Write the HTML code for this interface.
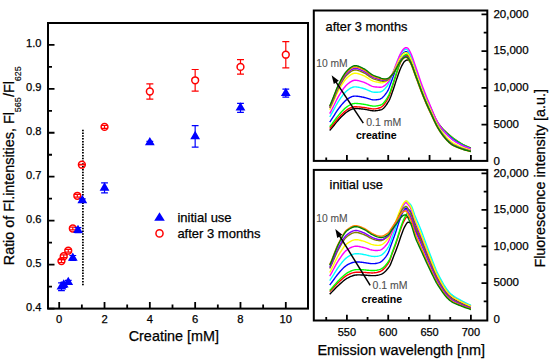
<!DOCTYPE html>
<html><head><meta charset="utf-8"><style>
html,body{margin:0;padding:0;background:#fff;}
svg{display:block;font-family:"Liberation Sans",sans-serif;}
text{stroke:currentColor;stroke-width:0.25px;}
</style></head><body>
<svg width="550" height="361" viewBox="0 0 550 361">
<rect width="550" height="361" fill="#fff"/>
<g stroke="#000" stroke-width="2" fill="none">
<rect x="48" y="23" width="260" height="285.6"/>
</g>
<path d="M59.20 308.6V302.10 M81.86 308.6V304.60 M104.52 308.6V302.10 M127.18 308.6V304.60 M149.84 308.6V302.10 M172.50 308.6V304.60 M195.16 308.6V302.10 M217.82 308.6V304.60 M240.48 308.6V302.10 M263.14 308.6V304.60 M285.80 308.6V302.10 M48 308.60H54.50 M48 286.62H52.00 M48 264.64H54.50 M48 242.66H52.00 M48 220.68H54.50 M48 198.70H52.00 M48 176.72H54.50 M48 154.74H52.00 M48 132.76H54.50 M48 110.78H52.00 M48 88.80H54.50 M48 66.82H52.00 M48 44.84H54.50" stroke="#000" stroke-width="1.8" fill="none"/>
<g font-size="11.1" text-anchor="end" fill="#000">
<text x="41.4" y="311.10">0.4</text>
<text x="41.4" y="267.14">0.5</text>
<text x="41.4" y="223.18">0.6</text>
<text x="41.4" y="179.22">0.7</text>
<text x="41.4" y="135.26">0.8</text>
<text x="41.4" y="91.30">0.9</text>
<text x="41.4" y="47.34">1.0</text>
</g>
<g font-size="11.2" text-anchor="middle" fill="#000">
<text x="59.20" y="323.2">0</text>
<text x="104.52" y="323.2">2</text>
<text x="149.84" y="323.2">4</text>
<text x="195.16" y="323.2">6</text>
<text x="240.48" y="323.2">8</text>
<text x="285.80" y="323.2">10</text>
</g>
<text x="128.7" y="341" font-size="14.4">Creatine [mM]</text>
<text transform="translate(13.7,265.2) rotate(-90)" font-size="14.35">Ratio of Fl.intensities, Fl<tspan font-size="9" dy="6.8" style="stroke-width:0.15px">565</tspan><tspan dy="-6.8">/Fl</tspan><tspan font-size="9" dy="6.8" style="stroke-width:0.15px">625</tspan></text>
<line x1="82.9" y1="129.7" x2="82.9" y2="285.2" stroke="#000" stroke-width="1.8" stroke-dasharray="1.5 1.3"/>
<g stroke="#ff0000" stroke-width="1.5" fill="none"><circle cx="61.47" cy="261.10" r="3.4"/><circle cx="63.73" cy="256.20" r="3.4"/><circle cx="68.26" cy="250.70" r="3.4"/><circle cx="72.80" cy="228.50" r="3.4"/><circle cx="77.33" cy="195.80" r="3.4"/><circle cx="81.86" cy="164.70" r="3.4"/><circle cx="104.52" cy="126.90" r="3.4"/><circle cx="149.84" cy="91.50" r="3.4"/><circle cx="195.16" cy="80.30" r="3.4"/><circle cx="240.48" cy="66.90" r="3.4"/><circle cx="285.80" cy="54.70" r="3.4"/></g>
<path d="M61.47 259.70V262.50M57.97 259.70H64.97M57.97 262.50H64.97M63.73 254.80V257.60M60.23 254.80H67.23M60.23 257.60H67.23M68.26 249.30V252.10M64.76 249.30H71.76M64.76 252.10H71.76M72.80 227.20V229.80M69.30 227.20H76.30M69.30 229.80H76.30M77.33 194.40V197.20M73.83 194.40H80.83M73.83 197.20H80.83M81.86 164.45V164.95M78.36 164.45H85.36M78.36 164.95H85.36M104.52 125.50V128.30M101.02 125.50H108.02M101.02 128.30H108.02M149.84 88.10V83.80M149.84 94.90V99.20M146.34 83.80H153.34M146.34 99.20H153.34M195.16 76.90V69.50M195.16 83.70V91.10M191.66 69.50H198.66M191.66 91.10H198.66M240.48 63.50V59.70M240.48 70.30V74.10M236.98 59.70H243.98M236.98 74.10H243.98M285.80 51.30V41.60M285.80 58.10V67.80M282.30 41.60H289.30M282.30 67.80H289.30" stroke="#ff0000" stroke-width="1.2" fill="none"/>
<path d="M61.47 282.90V290.70M58.07 282.90H64.87M58.07 290.70H64.87M63.73 282.30V287.30M60.33 282.30H67.13M60.33 287.30H67.13M68.26 280.30V284.30M64.86 280.30H71.66M64.86 284.30H71.66M72.80 255.50V260.50M69.40 255.50H76.20M69.40 260.50H76.20M78.01 227.70V232.70M74.61 227.70H81.41M74.61 232.70H81.41M82.31 198.90V201.90M78.91 198.90H85.71M78.91 201.90H85.71M104.52 182.90V192.90M101.12 182.90H107.92M101.12 192.90H107.92M149.84 141.30V143.70M146.44 141.30H153.24M146.44 143.70H153.24M195.16 125.70V147.10M191.76 125.70H198.56M191.76 147.10H198.56M240.48 103.30V112.30M237.08 103.30H243.88M237.08 112.30H243.88M285.80 89.20V97.20M282.40 89.20H289.20M282.40 97.20H289.20" stroke="#0000ff" stroke-width="1.2" fill="none"/>
<path d="M61.47 281.27L66.37 289.57L56.57 289.57ZM63.73 279.27L68.63 287.57L58.83 287.57ZM68.26 276.77L73.16 285.07L63.36 285.07ZM72.80 252.47L77.70 260.77L67.90 260.77ZM78.01 224.67L82.91 232.97L73.11 232.97ZM82.31 194.87L87.21 203.17L77.41 203.17ZM104.52 182.37L109.42 190.67L99.62 190.67ZM149.84 136.97L154.74 145.27L144.94 145.27ZM195.16 130.87L200.06 139.17L190.26 139.17ZM240.48 102.27L245.38 110.57L235.58 110.57ZM285.80 87.67L290.70 95.97L280.90 95.97Z" fill="#0000ff"/>
<path d="M159.50 212.30L164.80 220.70L154.20 220.70Z" fill="#0000ff"/>
<circle cx="159.5" cy="233.4" r="3.55" stroke="#ff0000" stroke-width="1.5" fill="none"/>
<text x="177.4" y="222.0" font-size="13">initial use</text>
<text x="177.4" y="237.9" font-size="13">after 3 months</text>
<rect x="313.8" y="10.5" width="173.5" height="150.40" stroke="#000" stroke-width="2" fill="none"/>
<path d="M487.3 142.93H483.70 M487.3 124.55H481.50 M487.3 106.18H483.70 M487.3 87.80H481.50 M487.3 69.43H483.70 M487.3 51.05H481.50 M487.3 32.68H483.70 M487.3 14.30H481.50 M326.23 160.90V157.50 M346.90 160.90V155.10 M367.57 160.90V157.50 M388.23 160.90V155.10 M408.90 160.90V157.50 M429.57 160.90V155.10 M450.24 160.90V157.50 M470.90 160.90V155.10" stroke="#000" stroke-width="1.8" fill="none"/>
<g font-size="11.5" fill="#000">
<text x="493.4" y="164.60">0</text>
<text x="493.4" y="127.85">5000</text>
<text x="493.4" y="91.10">10,000</text>
<text x="493.4" y="54.35">15,000</text>
<text x="493.4" y="17.60">20,000</text>
</g>
<g fill="none" stroke-width="1.4" stroke-linejoin="round"><polyline points="329.70,130.44 330.37,129.64 331.19,128.68 332.02,127.72 332.85,126.73 333.67,125.71 334.50,124.69 335.33,123.66 336.15,122.64 336.98,121.65 337.81,120.68 338.63,119.75 339.46,118.86 340.29,117.97 341.11,117.10 341.94,116.25 342.77,115.44 343.59,114.65 344.42,113.90 345.25,113.20 346.07,112.55 346.90,111.96 347.73,111.41 348.55,110.89 349.38,110.41 350.21,109.96 351.03,109.57 351.86,109.22 352.69,108.94 353.51,108.71 354.34,108.55 355.17,108.47 355.99,108.46 356.82,108.49 357.65,108.54 358.47,108.60 359.30,108.68 360.13,108.77 360.95,108.86 361.78,108.96 362.61,109.06 363.43,109.15 364.26,109.26 365.09,109.39 365.91,109.53 366.74,109.68 367.57,109.84 368.39,110.00 369.22,110.16 370.05,110.32 370.87,110.47 371.70,110.60 372.53,110.72 373.35,110.80 374.18,110.83 375.01,110.81 375.83,110.75 376.66,110.66 377.49,110.53 378.31,110.37 379.14,110.20 379.97,110.02 380.79,109.83 381.62,109.54 382.45,109.07 383.27,108.43 384.10,107.64 384.93,106.71 385.75,105.66 386.58,104.50 387.41,103.25 388.23,101.91 389.06,100.53 389.89,98.86 390.72,96.78 391.54,94.46 392.37,92.03 393.20,89.66 394.02,87.26 394.85,84.73 395.68,82.15 396.50,79.60 397.33,77.17 398.16,74.81 398.98,72.47 399.81,70.23 400.64,68.19 401.46,66.43 402.29,64.83 403.12,63.34 403.94,62.10 404.77,61.25 405.60,60.65 406.42,60.19 407.25,59.95 408.08,59.99 408.90,60.47 409.73,61.39 410.56,62.56 411.38,63.82 412.21,65.27 413.04,67.03 413.86,69.00 414.69,71.11 415.52,73.24 416.34,75.31 417.17,77.38 418.00,79.54 418.82,81.77 419.65,84.02 420.48,86.26 421.30,88.44 422.13,90.51 422.96,92.50 423.78,94.45 424.61,96.35 425.44,98.22 426.26,100.06 427.09,101.86 427.92,103.63 428.74,105.38 429.57,107.11 430.40,108.83 431.22,110.58 432.05,112.38 432.88,114.21 433.70,116.02 434.53,117.81 435.36,119.54 436.18,121.18 437.01,122.71 437.84,124.10 438.66,125.33 439.49,126.43 440.32,127.48 441.14,128.48 441.97,129.42 442.80,130.32 443.62,131.17 444.45,131.98 445.28,132.76 446.10,133.51 446.93,134.24 447.76,134.94 448.58,135.63 449.41,136.31 450.24,136.97 451.06,137.64 451.89,138.29 452.72,138.93 453.54,139.54 454.37,140.13 455.20,140.71 456.02,141.28 456.85,141.84 457.68,142.38 458.50,142.92 459.33,143.44 460.16,143.95 460.98,144.44 461.81,144.91 462.64,145.37 463.46,145.80 464.29,146.21 465.12,146.61 465.94,146.99 466.77,147.36 467.60,147.71 468.42,148.05 469.25,148.39 470.08,148.73 470.90,149.06" stroke="#000000"/>
<polyline points="329.70,128.51 330.37,127.74 331.19,126.80 332.02,125.82 332.85,124.81 333.67,123.77 334.50,122.73 335.33,121.69 336.15,120.66 336.98,119.65 337.81,118.67 338.63,117.74 339.46,116.83 340.29,115.94 341.11,115.07 341.94,114.22 342.77,113.40 343.59,112.61 344.42,111.87 345.25,111.18 346.07,110.54 346.90,109.95 347.73,109.42 348.55,108.91 349.38,108.45 350.21,108.03 351.03,107.66 351.86,107.35 352.69,107.09 353.51,106.91 354.34,106.79 355.17,106.74 355.99,106.76 356.82,106.79 357.65,106.83 358.47,106.90 359.30,106.97 360.13,107.05 360.95,107.14 361.78,107.24 362.61,107.33 363.43,107.42 364.26,107.53 365.09,107.65 365.91,107.78 366.74,107.93 367.57,108.08 368.39,108.24 369.22,108.39 370.05,108.54 370.87,108.68 371.70,108.81 372.53,108.90 373.35,108.94 374.18,108.91 375.01,108.85 375.83,108.74 376.66,108.59 377.49,108.42 378.31,108.22 379.14,108.01 379.97,107.79 380.79,107.48 381.62,106.97 382.45,106.30 383.27,105.46 384.10,104.48 384.93,103.38 385.75,102.16 386.58,100.85 387.41,99.45 388.23,97.99 389.06,96.27 389.89,94.10 390.72,91.67 391.54,89.12 392.37,86.62 393.20,84.13 394.02,81.50 394.85,78.82 395.68,76.17 396.50,73.62 397.33,71.15 398.16,68.69 398.98,66.33 399.81,64.17 400.64,62.29 401.46,60.61 402.29,59.03 403.12,57.70 403.94,56.76 404.77,56.10 405.60,55.55 406.42,55.21 407.25,55.17 408.08,55.58 408.90,56.46 409.73,57.63 410.56,58.90 411.38,60.35 412.21,62.13 413.04,64.16 413.86,66.34 414.69,68.56 415.52,70.73 416.34,72.89 417.17,75.14 418.00,77.44 418.82,79.78 419.65,82.10 420.48,84.37 421.30,86.53 422.13,88.60 422.96,90.63 423.78,92.61 424.61,94.56 425.44,96.47 426.26,98.35 427.09,100.20 427.92,102.03 428.74,103.84 429.57,105.63 430.40,107.44 431.22,109.30 432.05,111.20 432.88,113.08 433.70,114.94 434.53,116.74 435.36,118.46 436.18,120.06 437.01,121.52 437.84,122.80 438.66,123.96 439.49,125.05 440.32,126.09 441.14,127.07 441.97,128.00 442.80,128.89 443.62,129.74 444.45,130.56 445.28,131.35 446.10,132.11 446.93,132.85 447.76,133.57 448.58,134.28 449.41,134.98 450.24,135.68 451.06,136.38 451.89,137.05 452.72,137.71 453.54,138.35 454.37,138.96 455.20,139.56 456.02,140.15 456.85,140.72 457.68,141.28 458.50,141.83 459.33,142.37 460.16,142.88 460.98,143.38 461.81,143.86 462.64,144.32 463.46,144.75 464.29,145.17 465.12,145.57 465.94,145.95 466.77,146.33 467.60,146.69 468.42,147.04 469.25,147.40 470.08,147.74 470.90,148.09" stroke="#ff0000"/>
<polyline points="329.70,126.74 330.37,125.91 331.19,124.89 332.02,123.84 332.85,122.74 333.67,121.63 334.50,120.50 335.33,119.37 336.15,118.26 336.98,117.17 337.81,116.12 338.63,115.12 339.46,114.16 340.29,113.21 341.11,112.27 341.94,111.37 342.77,110.50 343.59,109.66 344.42,108.87 345.25,108.13 346.07,107.45 346.90,106.84 347.73,106.27 348.55,105.74 349.38,105.25 350.21,104.80 351.03,104.40 351.86,104.06 352.69,103.79 353.51,103.58 354.34,103.44 355.17,103.39 355.99,103.40 356.82,103.44 357.65,103.50 358.47,103.58 359.30,103.67 360.13,103.77 360.95,103.88 361.78,103.99 362.61,104.11 363.43,104.22 364.26,104.35 365.09,104.50 365.91,104.66 366.74,104.84 367.57,105.03 368.39,105.22 369.22,105.41 370.05,105.60 370.87,105.77 371.70,105.93 372.53,106.05 373.35,106.12 374.18,106.13 375.01,106.10 375.83,106.02 376.66,105.91 377.49,105.77 378.31,105.61 379.14,105.43 379.97,105.24 380.79,105.00 381.62,104.58 382.45,103.98 383.27,103.23 384.10,102.34 384.93,101.31 385.75,100.18 386.58,98.94 387.41,97.62 388.23,96.23 389.06,94.64 389.89,92.62 390.72,90.30 391.54,87.84 392.37,85.39 393.20,82.99 394.02,80.45 394.85,77.84 395.68,75.22 396.50,72.69 397.33,70.26 398.16,67.83 398.98,65.49 399.81,63.32 400.64,61.41 401.46,59.74 402.29,58.16 403.12,56.80 403.94,55.80 404.77,55.13 405.60,54.58 406.42,54.23 407.25,54.17 408.08,54.53 408.90,55.38 409.73,56.55 410.56,57.87 411.38,59.30 412.21,61.07 413.04,63.11 413.86,65.30 414.69,67.55 415.52,69.77 416.34,71.94 417.17,74.19 418.00,76.51 418.82,78.86 419.65,81.21 420.48,83.51 421.30,85.72 422.13,87.82 422.96,89.88 423.78,91.90 424.61,93.88 425.44,95.82 426.26,97.73 427.09,99.61 427.92,101.46 428.74,103.29 429.57,105.09 430.40,106.91 431.22,108.79 432.05,110.69 432.88,112.60 433.70,114.48 434.53,116.31 435.36,118.06 436.18,119.70 437.01,121.21 437.84,122.56 438.66,123.75 439.49,124.88 440.32,125.95 441.14,126.97 441.97,127.94 442.80,128.86 443.62,129.74 444.45,130.58 445.28,131.39 446.10,132.17 446.93,132.93 447.76,133.67 448.58,134.40 449.41,135.11 450.24,135.82 451.06,136.52 451.89,137.20 452.72,137.85 453.54,138.49 454.37,139.09 455.20,139.68 456.02,140.26 456.85,140.83 457.68,141.39 458.50,141.93 459.33,142.46 460.16,142.97 460.98,143.46 461.81,143.93 462.64,144.39 463.46,144.82 464.29,145.23 465.12,145.63 465.94,146.01 466.77,146.38 467.60,146.74 468.42,147.09 469.25,147.44 470.08,147.78 470.90,148.12" stroke="#00ff00"/>
<polyline points="329.70,122.01 330.37,121.10 331.19,119.92 332.02,118.68 332.85,117.40 333.67,116.09 334.50,114.77 335.33,113.46 336.15,112.17 336.98,110.92 337.81,109.72 338.63,108.59 339.46,107.51 340.29,106.45 341.11,105.41 341.94,104.40 342.77,103.44 343.59,102.52 344.42,101.66 345.25,100.86 346.07,100.14 346.90,99.50 347.73,98.92 348.55,98.37 349.38,97.86 350.21,97.41 351.03,97.01 351.86,96.68 352.69,96.41 353.51,96.23 354.34,96.13 355.17,96.11 355.99,96.13 356.82,96.18 357.65,96.26 358.47,96.37 359.30,96.50 360.13,96.64 360.95,96.79 361.78,96.95 362.61,97.12 363.43,97.28 364.26,97.45 365.09,97.66 365.91,97.89 366.74,98.14 367.57,98.41 368.39,98.68 369.22,98.94 370.05,99.20 370.87,99.44 371.70,99.64 372.53,99.78 373.35,99.85 374.18,99.87 375.01,99.85 375.83,99.79 376.66,99.70 377.49,99.59 378.31,99.46 379.14,99.33 379.97,99.13 380.79,98.76 381.62,98.24 382.45,97.58 383.27,96.79 384.10,95.89 384.93,94.88 385.75,93.78 386.58,92.60 387.41,91.36 388.23,89.87 389.06,87.95 389.89,85.77 390.72,83.48 391.54,81.22 392.37,78.99 393.20,76.63 394.02,74.20 394.85,71.77 395.68,69.41 396.50,67.10 397.33,64.75 398.16,62.50 398.98,60.42 399.81,58.60 400.64,56.99 401.46,55.48 402.29,54.19 403.12,53.25 403.94,52.61 404.77,52.05 405.60,51.69 406.42,51.63 407.25,52.04 408.08,52.93 408.90,54.15 409.73,55.52 410.56,57.04 411.38,58.91 412.21,61.03 413.04,63.31 413.86,65.65 414.69,67.95 415.52,70.21 416.34,72.56 417.17,74.94 418.00,77.32 418.82,79.71 419.65,82.05 420.48,84.30 421.30,86.46 422.13,88.57 422.96,90.65 423.78,92.69 424.61,94.70 425.44,96.67 426.26,98.62 427.09,100.53 427.92,102.42 428.74,104.28 429.57,106.14 430.40,108.05 431.22,109.98 432.05,111.92 432.88,113.84 433.70,115.70 434.53,117.49 435.36,119.17 436.18,120.72 437.01,122.11 437.84,123.36 438.66,124.55 439.49,125.68 440.32,126.76 441.14,127.79 441.97,128.78 442.80,129.72 443.62,130.62 444.45,131.49 445.28,132.33 446.10,133.15 446.93,133.94 447.76,134.71 448.58,135.47 449.41,136.22 450.24,136.95 451.06,137.66 451.89,138.34 452.72,138.99 453.54,139.60 454.37,140.19 455.20,140.74 456.02,141.29 456.85,141.83 457.68,142.35 458.50,142.86 459.33,143.35 460.16,143.83 460.98,144.28 461.81,144.72 462.64,145.14 463.46,145.54 464.29,145.92 465.12,146.29 465.94,146.64 466.77,146.99 467.60,147.33 468.42,147.66 469.25,147.99 470.08,148.32 470.90,148.66" stroke="#0000ff"/>
<polyline points="329.70,116.85 330.37,115.79 331.19,114.41 332.02,112.95 332.85,111.44 333.67,109.90 334.50,108.34 335.33,106.79 336.15,105.28 336.98,103.81 337.81,102.42 338.63,101.11 339.46,99.87 340.29,98.65 341.11,97.45 341.94,96.30 342.77,95.19 343.59,94.14 344.42,93.16 345.25,92.26 346.07,91.44 346.90,90.73 347.73,90.08 348.55,89.47 349.38,88.90 350.21,88.38 351.03,87.92 351.86,87.54 352.69,87.23 353.51,87.02 354.34,86.90 355.17,86.87 355.99,86.89 356.82,86.96 357.65,87.08 358.47,87.22 359.30,87.40 360.13,87.60 360.95,87.81 361.78,88.03 362.61,88.25 363.43,88.47 364.26,88.71 365.09,89.00 365.91,89.32 366.74,89.66 367.57,90.02 368.39,90.39 369.22,90.76 370.05,91.11 370.87,91.45 371.70,91.73 372.53,91.94 373.35,92.09 374.18,92.18 375.01,92.23 375.83,92.24 376.66,92.23 377.49,92.20 378.31,92.16 379.14,92.12 379.97,92.02 380.79,91.76 381.62,91.38 382.45,90.87 383.27,90.25 384.10,89.53 384.93,88.71 385.75,87.79 386.58,86.80 387.41,85.74 388.23,84.43 389.06,82.72 389.89,80.76 390.72,78.71 391.54,76.70 392.37,74.70 393.20,72.56 394.02,70.35 394.85,68.12 395.68,65.94 396.50,63.76 397.33,61.55 398.16,59.41 398.98,57.45 399.81,55.74 400.64,54.22 401.46,52.79 402.29,51.57 403.12,50.69 403.94,50.09 404.77,49.56 405.60,49.24 406.42,49.26 407.25,49.74 408.08,50.72 408.90,52.02 409.73,53.48 410.56,55.11 411.38,57.08 412.21,59.30 413.04,61.67 413.86,64.10 414.69,66.48 415.52,68.83 416.34,71.24 417.17,73.66 418.00,76.09 418.82,78.51 419.65,80.90 420.48,83.20 421.30,85.42 422.13,87.60 422.96,89.74 423.78,91.85 424.61,93.92 425.44,95.96 426.26,97.96 427.09,99.93 427.92,101.87 428.74,103.78 429.57,105.68 430.40,107.61 431.22,109.58 432.05,111.55 432.88,113.50 433.70,115.40 434.53,117.23 435.36,118.96 436.18,120.56 437.01,122.01 437.84,123.33 438.66,124.59 439.49,125.80 440.32,126.95 441.14,128.05 441.97,129.11 442.80,130.12 443.62,131.09 444.45,132.02 445.28,132.92 446.10,133.79 446.93,134.63 447.76,135.44 448.58,136.23 449.41,137.01 450.24,137.76 451.06,138.47 451.89,139.16 452.72,139.80 453.54,140.40 454.37,140.96 455.20,141.49 456.02,142.01 456.85,142.51 457.68,143.01 458.50,143.49 459.33,143.95 460.16,144.40 460.98,144.84 461.81,145.25 462.64,145.64 463.46,146.02 464.29,146.38 465.12,146.73 465.94,147.06 466.77,147.39 467.60,147.71 468.42,148.03 469.25,148.34 470.08,148.66 470.90,148.97" stroke="#00ffff"/>
<polyline points="329.70,113.61 330.37,112.42 331.19,110.91 332.02,109.30 332.85,107.64 333.67,105.93 334.50,104.20 335.33,102.49 336.15,100.81 336.98,99.18 337.81,97.64 338.63,96.21 339.46,94.85 340.29,93.50 341.11,92.18 341.94,90.90 342.77,89.68 343.59,88.52 344.42,87.43 345.25,86.43 346.07,85.53 346.90,84.74 347.73,84.02 348.55,83.33 349.38,82.69 350.21,82.10 351.03,81.57 351.86,81.11 352.69,80.74 353.51,80.46 354.34,80.29 355.17,80.23 355.99,80.26 356.82,80.35 357.65,80.48 358.47,80.66 359.30,80.87 360.13,81.10 360.95,81.35 361.78,81.62 362.61,81.89 363.43,82.15 364.26,82.44 365.09,82.78 365.91,83.16 366.74,83.57 367.57,84.00 368.39,84.44 369.22,84.88 370.05,85.30 370.87,85.70 371.70,86.06 372.53,86.36 373.35,86.60 374.18,86.78 375.01,86.91 375.83,87.01 376.66,87.07 377.49,87.12 378.31,87.16 379.14,87.19 379.97,87.24 380.79,87.23 381.62,87.09 382.45,86.82 383.27,86.43 384.10,85.93 384.93,85.32 385.75,84.61 386.58,83.80 387.41,82.91 388.23,81.94 389.06,80.70 389.89,79.13 390.72,77.33 391.54,75.44 392.37,73.59 393.20,71.70 394.02,69.66 394.85,67.52 395.68,65.35 396.50,63.20 397.33,61.06 398.16,58.93 398.98,56.90 399.81,55.04 400.64,53.43 401.46,51.98 402.29,50.63 403.12,49.49 403.94,48.70 404.77,48.13 405.60,47.72 406.42,47.59 407.25,47.81 408.08,48.52 408.90,49.68 409.73,51.15 410.56,52.74 411.38,54.54 412.21,56.64 413.04,58.97 413.86,61.42 414.69,63.89 415.52,66.30 416.34,68.67 417.17,71.08 418.00,73.51 418.82,75.99 419.65,78.45 420.48,80.88 421.30,83.21 422.13,85.47 422.96,87.69 423.78,89.87 424.61,92.01 425.44,94.12 426.26,96.18 427.09,98.20 427.92,100.19 428.74,102.13 429.57,104.04 430.40,105.96 431.22,107.93 432.05,109.93 432.88,111.93 433.70,113.91 434.53,115.84 435.36,117.69 436.18,119.44 437.01,121.06 437.84,122.54 438.66,123.89 439.49,125.19 440.32,126.43 441.14,127.62 441.97,128.76 442.80,129.84 443.62,130.88 444.45,131.88 445.28,132.83 446.10,133.74 446.93,134.62 447.76,135.47 448.58,136.28 449.41,137.07 450.24,137.83 451.06,138.56 451.89,139.24 452.72,139.89 453.54,140.48 454.37,141.03 455.20,141.55 456.02,142.05 456.85,142.55 457.68,143.04 458.50,143.51 459.33,143.97 460.16,144.42 460.98,144.85 461.81,145.26 462.64,145.65 463.46,146.03 464.29,146.39 465.12,146.73 465.94,147.07 466.77,147.39 467.60,147.70 468.42,148.01 469.25,148.31 470.08,148.62 470.90,148.92" stroke="#ff00ff"/>
<polyline points="329.70,109.80 330.37,108.50 331.19,106.81 332.02,105.02 332.85,103.15 333.67,101.23 334.50,99.30 335.33,97.38 336.15,95.50 336.98,93.69 337.81,91.99 338.63,90.42 339.46,88.93 340.29,87.46 341.11,86.02 341.94,84.63 342.77,83.30 343.59,82.04 344.42,80.87 345.25,79.79 346.07,78.83 346.90,78.00 347.73,77.24 348.55,76.52 349.38,75.83 350.21,75.20 351.03,74.64 351.86,74.15 352.69,73.75 353.51,73.45 354.34,73.26 355.17,73.20 355.99,73.24 356.82,73.35 357.65,73.51 358.47,73.73 359.30,73.99 360.13,74.29 360.95,74.60 361.78,74.93 362.61,75.27 363.43,75.59 364.26,75.95 365.09,76.38 365.91,76.85 366.74,77.37 367.57,77.90 368.39,78.45 369.22,79.00 370.05,79.53 370.87,80.02 371.70,80.47 372.53,80.86 373.35,81.18 374.18,81.44 375.01,81.66 375.83,81.85 376.66,82.01 377.49,82.16 378.31,82.31 379.14,82.48 379.97,82.66 380.79,82.79 381.62,82.83 382.45,82.78 383.27,82.63 384.10,82.40 384.93,82.09 385.75,81.68 386.58,81.19 387.41,80.62 388.23,79.96 389.06,79.05 389.89,77.88 390.72,76.53 391.54,75.12 392.37,73.75 393.20,72.30 394.02,70.71 394.85,69.02 395.68,67.27 396.50,65.49 397.33,63.68 398.16,61.89 398.98,60.19 399.81,58.64 400.64,57.31 401.46,56.09 402.29,54.96 403.12,54.03 403.94,53.39 404.77,52.92 405.60,52.60 406.42,52.60 407.25,52.96 408.08,53.77 408.90,55.01 409.73,56.52 410.56,58.15 411.38,59.99 412.21,62.11 413.04,64.41 413.86,66.81 414.69,69.22 415.52,71.56 416.34,73.86 417.17,76.16 418.00,78.47 418.82,80.82 419.65,83.17 420.48,85.47 421.30,87.71 422.13,89.89 422.96,92.03 423.78,94.14 424.61,96.21 425.44,98.24 426.26,100.24 427.09,102.19 427.92,104.09 428.74,105.96 429.57,107.77 430.40,109.60 431.22,111.48 432.05,113.38 432.88,115.28 433.70,117.16 434.53,118.99 435.36,120.76 436.18,122.45 437.01,124.02 437.84,125.47 438.66,126.82 439.49,128.12 440.32,129.36 441.14,130.56 441.97,131.70 442.80,132.80 443.62,133.85 444.45,134.86 445.28,135.82 446.10,136.74 446.93,137.62 447.76,138.46 448.58,139.27 449.41,140.03 450.24,140.77 451.06,141.45 451.89,142.09 452.72,142.68 453.54,143.21 454.37,143.68 455.20,144.11 456.02,144.54 456.85,144.96 457.68,145.37 458.50,145.77 459.33,146.15 460.16,146.53 460.98,146.89 461.81,147.24 462.64,147.57 463.46,147.88 464.29,148.18 465.12,148.47 465.94,148.75 466.77,149.02 467.60,149.29 468.42,149.55 469.25,149.80 470.08,150.06 470.90,150.31" stroke="#ffff00"/>
<polyline points="329.70,108.16 330.37,106.79 331.19,105.03 332.02,103.15 332.85,101.19 333.67,99.17 334.50,97.14 335.33,95.12 336.15,93.15 336.98,91.25 337.81,89.47 338.63,87.84 339.46,86.29 340.29,84.76 341.11,83.27 341.94,81.82 342.77,80.44 343.59,79.13 344.42,77.91 345.25,76.81 346.07,75.82 346.90,74.96 347.73,74.19 348.55,73.45 349.38,72.74 350.21,72.09 351.03,71.50 351.86,70.99 352.69,70.57 353.51,70.26 354.34,70.06 355.17,69.99 355.99,70.03 356.82,70.15 357.65,70.34 358.47,70.58 359.30,70.87 360.13,71.19 360.95,71.54 361.78,71.90 362.61,72.27 363.43,72.63 364.26,73.02 365.09,73.49 365.91,74.01 366.74,74.58 367.57,75.17 368.39,75.77 369.22,76.37 370.05,76.95 370.87,77.50 371.70,78.00 372.53,78.43 373.35,78.79 374.18,79.11 375.01,79.38 375.83,79.62 376.66,79.84 377.49,80.05 378.31,80.27 379.14,80.49 379.97,80.75 380.79,80.98 381.62,81.14 382.45,81.23 383.27,81.24 384.10,81.18 384.93,81.03 385.75,80.81 386.58,80.50 387.41,80.11 388.23,79.64 389.06,78.97 389.89,78.06 390.72,76.99 391.54,75.85 392.37,74.72 393.20,73.55 394.02,72.22 394.85,70.77 395.68,69.24 396.50,67.66 397.33,66.05 398.16,64.45 398.98,62.92 399.81,61.52 400.64,60.30 401.46,59.21 402.29,58.19 403.12,57.33 403.94,56.73 404.77,56.30 405.60,56.04 406.42,56.08 407.25,56.46 408.08,57.28 408.90,58.51 409.73,60.01 410.56,61.65 411.38,63.47 412.21,65.54 413.04,67.80 413.86,70.14 414.69,72.50 415.52,74.79 416.34,77.02 417.17,79.24 418.00,81.47 418.82,83.73 419.65,86.00 420.48,88.24 421.30,90.42 422.13,92.54 422.96,94.64 423.78,96.70 424.61,98.72 425.44,100.70 426.26,102.65 427.09,104.55 427.92,106.40 428.74,108.21 429.57,109.97 430.40,111.73 431.22,113.53 432.05,115.36 432.88,117.20 433.70,119.02 434.53,120.80 435.36,122.53 436.18,124.18 437.01,125.74 437.84,127.17 438.66,128.52 439.49,129.82 440.32,131.06 441.14,132.26 441.97,133.41 442.80,134.51 443.62,135.57 444.45,136.57 445.28,137.54 446.10,138.46 446.93,139.33 447.76,140.17 448.58,140.96 449.41,141.71 450.24,142.42 451.06,143.08 451.89,143.69 452.72,144.24 453.54,144.73 454.37,145.16 455.20,145.55 456.02,145.93 456.85,146.30 457.68,146.67 458.50,147.03 459.33,147.37 460.16,147.71 460.98,148.03 461.81,148.34 462.64,148.64 463.46,148.93 464.29,149.20 465.12,149.46 465.94,149.71 466.77,149.95 467.60,150.18 468.42,150.42 469.25,150.65 470.08,150.87 470.90,151.10" stroke="#808000"/>
<polyline points="329.70,107.31 330.37,105.91 331.19,104.11 332.02,102.19 332.85,100.18 333.67,98.12 334.50,96.05 335.33,93.99 336.15,91.97 336.98,90.04 337.81,88.23 338.63,86.56 339.46,84.98 340.29,83.43 341.11,81.91 341.94,80.43 342.77,79.03 343.59,77.70 344.42,76.46 345.25,75.34 346.07,74.33 346.90,73.47 347.73,72.69 348.55,71.93 349.38,71.22 350.21,70.56 351.03,69.96 351.86,69.44 352.69,69.02 353.51,68.70 354.34,68.50 355.17,68.43 355.99,68.47 356.82,68.59 357.65,68.79 358.47,69.04 359.30,69.33 360.13,69.67 360.95,70.03 361.78,70.40 362.61,70.78 363.43,71.15 364.26,71.56 365.09,72.04 365.91,72.59 366.74,73.17 367.57,73.79 368.39,74.41 369.22,75.03 370.05,75.63 370.87,76.20 371.70,76.71 372.53,77.16 373.35,77.54 374.18,77.87 375.01,78.16 375.83,78.41 376.66,78.65 377.49,78.88 378.31,79.12 379.14,79.37 379.97,79.65 380.79,79.91 381.62,80.10 382.45,80.23 383.27,80.28 384.10,80.27 384.93,80.17 385.75,80.00 386.58,79.75 387.41,79.41 388.23,78.99 389.06,78.38 389.89,77.53 390.72,76.54 391.54,75.48 392.37,74.43 393.20,73.32 394.02,72.07 394.85,70.69 395.68,69.23 396.50,67.70 397.33,66.14 398.16,64.59 398.98,63.11 399.81,61.76 400.64,60.58 401.46,59.52 402.29,58.54 403.12,57.71 403.94,57.14 404.77,56.72 405.60,56.47 406.42,56.53 407.25,56.94 408.08,57.78 408.90,59.02 409.73,60.53 410.56,62.18 411.38,64.02 412.21,66.10 413.04,68.36 413.86,70.70 414.69,73.06 415.52,75.34 416.34,77.57 417.17,79.78 418.00,81.99 418.82,84.25 419.65,86.50 420.48,88.74 421.30,90.91 422.13,93.03 422.96,95.11 423.78,97.17 424.61,99.19 425.44,101.17 426.26,103.11 427.09,105.00 427.92,106.85 428.74,108.65 429.57,110.40 430.40,112.15 431.22,113.95 432.05,115.77 432.88,117.59 433.70,119.40 434.53,121.18 435.36,122.90 436.18,124.55 437.01,126.10 437.84,127.54 438.66,128.89 439.49,130.19 440.32,131.44 441.14,132.65 441.97,133.80 442.80,134.91 443.62,135.97 444.45,136.99 445.28,137.96 446.10,138.88 446.93,139.76 447.76,140.60 448.58,141.39 449.41,142.14 450.24,142.85 451.06,143.51 451.89,144.11 452.72,144.65 453.54,145.13 454.37,145.55 455.20,145.92 456.02,146.29 456.85,146.66 457.68,147.01 458.50,147.36 459.33,147.69 460.16,148.02 460.98,148.33 461.81,148.63 462.64,148.92 463.46,149.19 464.29,149.46 465.12,149.71 465.94,149.95 466.77,150.18 467.60,150.41 468.42,150.64 469.25,150.86 470.08,151.08 470.90,151.30" stroke="#8000ff"/>
<polyline points="329.70,106.49 330.37,105.06 331.19,103.22 332.02,101.26 332.85,99.21 333.67,97.11 334.50,94.99 335.33,92.88 336.15,90.83 336.98,88.86 337.81,87.01 338.63,85.31 339.46,83.71 340.29,82.12 341.11,80.58 341.94,79.08 342.77,77.65 343.59,76.29 344.42,75.04 345.25,73.90 346.07,72.88 346.90,72.01 347.73,71.22 348.55,70.45 349.38,69.73 350.21,69.06 351.03,68.45 351.86,67.93 352.69,67.49 353.51,67.17 354.34,66.96 355.17,66.89 355.99,66.94 356.82,67.07 357.65,67.26 358.47,67.52 359.30,67.83 360.13,68.18 360.95,68.55 361.78,68.94 362.61,69.33 363.43,69.72 364.26,70.14 365.09,70.64 365.91,71.21 366.74,71.81 367.57,72.45 368.39,73.10 369.22,73.74 370.05,74.36 370.87,74.95 371.70,75.48 372.53,75.95 373.35,76.35 374.18,76.70 375.01,77.01 375.83,77.28 376.66,77.54 377.49,77.80 378.31,78.06 379.14,78.34 379.97,78.64 380.79,78.94 381.62,79.17 382.45,79.35 383.27,79.46 384.10,79.50 384.93,79.47 385.75,79.37 386.58,79.18 387.41,78.91 388.23,78.56 389.06,78.03 389.89,77.28 390.72,76.38 391.54,75.42 392.37,74.47 393.20,73.46 394.02,72.30 394.85,71.02 395.68,69.64 396.50,68.19 397.33,66.69 398.16,65.21 398.98,63.80 399.81,62.50 400.64,61.38 401.46,60.37 402.29,59.42 403.12,58.63 403.94,58.08 404.77,57.68 405.60,57.45 406.42,57.54 407.25,57.96 408.08,58.81 408.90,60.06 409.73,61.58 410.56,63.24 411.38,65.08 412.21,67.16 413.04,69.41 413.86,71.74 414.69,74.09 415.52,76.36 416.34,78.57 417.17,80.76 418.00,82.95 418.82,85.17 419.65,87.41 420.48,89.62 421.30,91.77 422.13,93.88 422.96,95.95 423.78,97.99 424.61,100.00 425.44,101.96 426.26,103.89 427.09,105.77 427.92,107.61 428.74,109.39 429.57,111.12 430.40,112.85 431.22,114.63 432.05,116.43 432.88,118.23 433.70,120.03 434.53,121.79 435.36,123.49 436.18,125.13 437.01,126.68 437.84,128.12 438.66,129.47 439.49,130.77 440.32,132.03 441.14,133.23 441.97,134.39 442.80,135.50 443.62,136.57 444.45,137.59 445.28,138.56 446.10,139.49 446.93,140.37 447.76,141.20 448.58,141.99 449.41,142.74 450.24,143.44 451.06,144.09 451.89,144.69 452.72,145.22 453.54,145.68 454.37,146.08 455.20,146.44 456.02,146.80 456.85,147.14 457.68,147.48 458.50,147.81 459.33,148.13 460.16,148.44 460.98,148.74 461.81,149.03 462.64,149.30 463.46,149.57 464.29,149.82 465.12,150.06 465.94,150.29 466.77,150.51 467.60,150.73 468.42,150.95 469.25,151.16 470.08,151.37 470.90,151.58" stroke="#ff8000"/>
<polyline points="329.70,105.95 330.37,104.49 331.19,102.62 332.02,100.64 332.85,98.56 333.67,96.43 334.50,94.27 335.33,92.14 336.15,90.05 336.98,88.05 337.81,86.17 338.63,84.45 339.46,82.82 340.29,81.22 341.11,79.65 341.94,78.12 342.77,76.67 343.59,75.29 344.42,74.02 345.25,72.85 346.07,71.82 346.90,70.92 347.73,70.12 348.55,69.33 349.38,68.59 350.21,67.90 351.03,67.28 351.86,66.73 352.69,66.28 353.51,65.94 354.34,65.72 355.17,65.64 355.99,65.68 356.82,65.81 357.65,66.01 358.47,66.28 359.30,66.59 360.13,66.94 360.95,67.32 361.78,67.72 362.61,68.12 363.43,68.51 364.26,68.95 365.09,69.46 365.91,70.03 366.74,70.65 367.57,71.30 368.39,71.96 369.22,72.62 370.05,73.25 370.87,73.85 371.70,74.39 372.53,74.88 373.35,75.30 374.18,75.67 375.01,76.00 375.83,76.29 376.66,76.57 377.49,76.84 378.31,77.12 379.14,77.42 379.97,77.74 380.79,78.09 381.62,78.40 382.45,78.64 383.27,78.81 384.10,78.91 384.93,78.93 385.75,78.87 386.58,78.73 387.41,78.50 388.23,78.17 389.06,77.77 389.89,77.15 390.72,76.34 391.54,75.42 392.37,74.46 393.20,73.49 394.02,72.37 394.85,71.11 395.68,69.72 396.50,68.23 397.33,66.75 398.16,65.26 398.98,63.82 399.81,62.48 400.64,61.28 401.46,60.24 402.29,59.27 403.12,58.40 403.94,57.74 404.77,57.31 405.60,57.05 406.42,57.09 407.25,57.46 408.08,58.19 408.90,59.35 409.73,60.84 410.56,62.51 411.38,64.29 412.21,66.31 413.04,68.52 413.86,70.84 414.69,73.19 415.52,75.49 416.34,77.70 417.17,79.87 418.00,82.06 418.82,84.29 419.65,86.54 420.48,88.79 421.30,90.98 422.13,93.12 422.96,95.21 423.78,97.28 424.61,99.30 425.44,101.29 426.26,103.24 427.09,105.13 427.92,106.98 428.74,108.78 429.57,110.52 430.40,112.24 431.22,114.02 432.05,115.82 432.88,117.64 433.70,119.45 434.53,121.24 435.36,122.98 436.18,124.66 437.01,126.26 437.84,127.75 438.66,129.14 439.49,130.47 440.32,131.75 441.14,132.98 441.97,134.16 442.80,135.29 443.62,136.38 444.45,137.41 445.28,138.40 446.10,139.34 446.93,140.23 447.76,141.07 448.58,141.87 449.41,142.61 450.24,143.32 451.06,143.97 451.89,144.57 452.72,145.10 453.54,145.57 454.37,145.97 455.20,146.33 456.02,146.68 456.85,147.03 457.68,147.37 458.50,147.70 459.33,148.02 460.16,148.34 460.98,148.64 461.81,148.93 462.64,149.21 463.46,149.48 464.29,149.73 465.12,149.97 465.94,150.21 466.77,150.43 467.60,150.65 468.42,150.87 469.25,151.08 470.08,151.29 470.90,151.50" stroke="#008000"/></g>
<text x="325.6" y="31.1" font-size="12.8">after 3 months</text>
<text x="316.2" y="66.6" font-size="10.3" fill="#505050" style="stroke:#505050;stroke-width:0.1px">10 mM</text>
<text x="366.2" y="125.8" font-size="10.5" fill="#505050" style="stroke:#505050;stroke-width:0.1px">0.1 mM</text>
<text x="355.9" y="139.2" font-size="10.6" font-weight="bold" style="stroke-width:0.05px">creatine</text>
<line x1="363.30" y1="123.20" x2="335.74" y2="81.55" stroke="#000" stroke-width="1.5"/>
<path d="M331.60 75.30L338.79 80.73L333.79 84.04Z" fill="#000"/>
<rect x="313.8" y="169.9" width="173.5" height="150.60" stroke="#000" stroke-width="2" fill="none"/>
<path d="M487.3 301.32H483.70 M487.3 283.04H481.50 M487.3 264.75H483.70 M487.3 246.47H481.50 M487.3 228.19H483.70 M487.3 209.91H481.50 M487.3 191.62H483.70 M487.3 173.34H481.50 M326.23 320.50V317.10 M346.90 320.50V314.70 M367.57 320.50V317.10 M388.23 320.50V314.70 M408.90 320.50V317.10 M429.57 320.50V314.70 M450.24 320.50V317.10 M470.90 320.50V314.70" stroke="#000" stroke-width="1.8" fill="none"/>
<g font-size="11.5" fill="#000">
<text x="493.4" y="322.90">0</text>
<text x="493.4" y="286.34">5000</text>
<text x="493.4" y="249.77">10,000</text>
<text x="493.4" y="213.21">15,000</text>
<text x="493.4" y="176.64">20,000</text>
</g>
<g font-size="11" text-anchor="middle" fill="#000">
<text x="346.90" y="335.9">550</text>
<text x="388.23" y="335.9">600</text>
<text x="429.57" y="335.9">650</text>
<text x="470.90" y="335.9">700</text>
</g>
<g fill="none" stroke-width="1.4" stroke-linejoin="round"><polyline points="329.70,294.27 330.37,293.56 331.19,292.71 332.02,291.88 332.85,291.04 333.67,290.18 334.50,289.32 335.33,288.45 336.15,287.60 336.98,286.76 337.81,285.94 338.63,285.16 339.46,284.40 340.29,283.64 341.11,282.90 341.94,282.17 342.77,281.46 343.59,280.78 344.42,280.13 345.25,279.53 346.07,278.97 346.90,278.46 347.73,277.99 348.55,277.54 349.38,277.12 350.21,276.73 351.03,276.37 351.86,276.05 352.69,275.76 353.51,275.51 354.34,275.30 355.17,275.13 355.99,275.02 356.82,274.95 357.65,274.91 358.47,274.89 359.30,274.89 360.13,274.90 360.95,274.93 361.78,274.96 362.61,275.00 363.43,275.04 364.26,275.09 365.09,275.14 365.91,275.21 366.74,275.29 367.57,275.36 368.39,275.43 369.22,275.50 370.05,275.56 370.87,275.61 371.70,275.65 372.53,275.66 373.35,275.67 374.18,275.64 375.01,275.59 375.83,275.51 376.66,275.40 377.49,275.25 378.31,275.08 379.14,274.88 379.97,274.64 380.79,274.38 381.62,274.07 382.45,273.65 383.27,273.12 384.10,272.49 384.93,271.76 385.75,270.95 386.58,270.05 387.41,269.07 388.23,268.03 389.06,266.91 389.89,265.64 390.72,263.91 391.54,261.85 392.37,259.64 393.20,257.44 394.02,255.36 394.85,253.26 395.68,251.13 396.50,248.94 397.33,246.71 398.16,244.40 398.98,241.96 399.81,239.45 400.64,236.99 401.46,234.65 402.29,232.48 403.12,230.33 403.94,228.32 404.77,226.60 405.60,225.17 406.42,223.74 407.25,222.61 408.08,222.11 408.90,222.36 409.73,222.70 410.56,223.04 411.38,223.38 412.21,223.85 413.04,224.90 413.86,226.41 414.69,228.19 415.52,230.04 416.34,231.78 417.17,233.30 418.00,234.81 418.82,236.35 419.65,237.93 420.48,239.55 421.30,241.19 422.13,242.87 422.96,244.59 423.78,246.38 424.61,248.22 425.44,250.11 426.26,252.02 427.09,253.95 427.92,255.88 428.74,257.80 429.57,259.70 430.40,261.55 431.22,263.38 432.05,265.24 432.88,267.12 433.70,269.01 434.53,270.88 435.36,272.72 436.18,274.50 437.01,276.22 437.84,277.84 438.66,279.36 439.49,280.78 440.32,282.17 441.14,283.55 441.97,284.90 442.80,286.22 443.62,287.51 444.45,288.75 445.28,289.96 446.10,291.11 446.93,292.21 447.76,293.25 448.58,294.22 449.41,295.12 450.24,295.95 451.06,296.70 451.89,297.37 452.72,298.00 453.54,298.58 454.37,299.13 455.20,299.65 456.02,300.14 456.85,300.61 457.68,301.06 458.50,301.49 459.33,301.91 460.16,302.32 460.98,302.72 461.81,303.12 462.64,303.52 463.46,303.92 464.29,304.32 465.12,304.71 465.94,305.09 466.77,305.46 467.60,305.82 468.42,306.18 469.25,306.52 470.08,306.87 470.90,307.21" stroke="#000000"/>
<polyline points="329.70,291.62 330.37,290.94 331.19,290.11 332.02,289.24 332.85,288.35 333.67,287.45 334.50,286.55 335.33,285.64 336.15,284.75 336.98,283.88 337.81,283.03 338.63,282.23 339.46,281.44 340.29,280.66 341.11,279.90 341.94,279.15 342.77,278.43 343.59,277.74 344.42,277.09 345.25,276.48 346.07,275.92 346.90,275.42 347.73,274.96 348.55,274.53 349.38,274.13 350.21,273.76 351.03,273.42 351.86,273.12 352.69,272.86 353.51,272.65 354.34,272.48 355.17,272.35 355.99,272.27 356.82,272.22 357.65,272.19 358.47,272.18 359.30,272.19 360.13,272.21 360.95,272.25 361.78,272.29 362.61,272.33 363.43,272.37 364.26,272.42 365.09,272.48 365.91,272.55 366.74,272.62 367.57,272.69 368.39,272.76 369.22,272.82 370.05,272.88 370.87,272.91 371.70,272.93 372.53,272.93 373.35,272.89 374.18,272.82 375.01,272.73 375.83,272.60 376.66,272.44 377.49,272.26 378.31,272.04 379.14,271.79 379.97,271.51 380.79,271.15 381.62,270.68 382.45,270.09 383.27,269.40 384.10,268.61 384.93,267.72 385.75,266.75 386.58,265.69 387.41,264.56 388.23,263.36 389.06,261.86 389.89,259.90 390.72,257.67 391.54,255.33 392.37,253.08 393.20,250.91 394.02,248.71 394.85,246.46 395.68,244.16 396.50,241.81 397.33,239.34 398.16,236.75 398.98,234.13 399.81,231.59 400.64,229.23 401.46,226.96 402.29,224.75 403.12,222.73 403.94,221.07 404.77,219.55 405.60,218.09 406.42,217.07 407.25,216.86 408.08,217.19 408.90,217.54 409.73,217.89 410.56,218.25 411.38,218.96 412.21,220.27 413.04,222.00 413.86,223.95 414.69,225.90 415.52,227.68 416.34,229.30 417.17,230.92 418.00,232.55 418.82,234.22 419.65,235.92 420.48,237.66 421.30,239.43 422.13,241.25 422.96,243.15 423.78,245.09 424.61,247.08 425.44,249.09 426.26,251.11 427.09,253.13 427.92,255.12 428.74,257.09 429.57,259.01 430.40,260.92 431.22,262.87 432.05,264.83 432.88,266.80 433.70,268.74 434.53,270.64 435.36,272.47 436.18,274.23 437.01,275.89 437.84,277.43 438.66,278.89 439.49,280.34 440.32,281.77 441.14,283.17 441.97,284.53 442.80,285.86 443.62,287.15 444.45,288.38 445.28,289.57 446.10,290.69 446.93,291.76 447.76,292.75 448.58,293.66 449.41,294.50 450.24,295.25 451.06,295.94 451.89,296.58 452.72,297.18 453.54,297.74 454.37,298.27 455.20,298.78 456.02,299.26 456.85,299.72 457.68,300.16 458.50,300.59 459.33,301.02 460.16,301.43 460.98,301.85 461.81,302.26 462.64,302.68 463.46,303.10 464.29,303.50 465.12,303.89 465.94,304.27 466.77,304.65 467.60,305.01 468.42,305.38 469.25,305.73 470.08,306.09 470.90,306.45" stroke="#ff0000"/>
<polyline points="329.70,290.50 330.37,289.75 331.19,288.85 332.02,287.93 332.85,286.99 333.67,286.04 334.50,285.08 335.33,284.11 336.15,283.17 336.98,282.24 337.81,281.34 338.63,280.48 339.46,279.64 340.29,278.81 341.11,278.00 341.94,277.20 342.77,276.43 343.59,275.69 344.42,274.99 345.25,274.34 346.07,273.74 346.90,273.19 347.73,272.70 348.55,272.23 349.38,271.79 350.21,271.38 351.03,271.01 351.86,270.68 352.69,270.38 353.51,270.13 354.34,269.93 355.17,269.77 355.99,269.67 356.82,269.61 357.65,269.58 358.47,269.57 359.30,269.58 360.13,269.61 360.95,269.65 361.78,269.69 362.61,269.74 363.43,269.80 364.26,269.85 365.09,269.92 365.91,270.01 366.74,270.09 367.57,270.18 368.39,270.27 369.22,270.35 370.05,270.42 370.87,270.48 371.70,270.52 372.53,270.54 373.35,270.53 374.18,270.50 375.01,270.43 375.83,270.33 376.66,270.20 377.49,270.04 378.31,269.84 379.14,269.62 379.97,269.36 380.79,269.06 381.62,268.66 382.45,268.14 383.27,267.51 384.10,266.78 384.93,265.94 385.75,265.01 386.58,263.99 387.41,262.90 388.23,261.73 389.06,260.48 389.89,258.79 390.72,256.69 391.54,254.36 392.37,251.98 393.20,249.73 394.02,247.50 394.85,245.23 395.68,242.92 396.50,240.55 397.33,238.13 398.16,235.56 398.98,232.90 399.81,230.24 400.64,227.69 401.46,225.33 402.29,223.02 403.12,220.80 403.94,218.84 404.77,217.25 405.60,215.71 406.42,214.34 407.25,213.54 408.08,213.61 408.90,214.00 409.73,214.40 410.56,214.80 411.38,215.22 412.21,216.17 413.04,217.69 413.86,219.56 414.69,221.59 415.52,223.57 416.34,225.32 417.17,226.96 418.00,228.62 418.82,230.32 419.65,232.06 420.48,233.83 421.30,235.63 422.13,237.47 422.96,239.37 423.78,241.34 424.61,243.36 425.44,245.42 426.26,247.50 427.09,249.58 427.92,251.66 428.74,253.71 429.57,255.72 430.40,257.69 431.22,259.68 432.05,261.69 432.88,263.72 433.70,265.74 434.53,267.74 435.36,269.68 436.18,271.56 437.01,273.34 437.84,275.02 438.66,276.58 439.49,278.08 440.32,279.57 441.14,281.04 441.97,282.47 442.80,283.87 443.62,285.23 444.45,286.54 445.28,287.80 446.10,289.01 446.93,290.15 447.76,291.22 448.58,292.22 449.41,293.15 450.24,293.98 451.06,294.73 451.89,295.42 452.72,296.07 453.54,296.67 454.37,297.24 455.20,297.78 456.02,298.29 456.85,298.78 457.68,299.25 458.50,299.70 459.33,300.15 460.16,300.58 460.98,301.01 461.81,301.43 462.64,301.86 463.46,302.29 464.29,302.72 465.12,303.13 465.94,303.53 466.77,303.92 467.60,304.30 468.42,304.68 469.25,305.05 470.08,305.42 470.90,305.79" stroke="#00ff00"/>
<polyline points="329.70,285.00 330.37,284.18 331.19,283.12 332.02,282.02 332.85,280.89 333.67,279.74 334.50,278.59 335.33,277.45 336.15,276.32 336.98,275.23 337.81,274.18 338.63,273.20 339.46,272.25 340.29,271.30 341.11,270.38 341.94,269.48 342.77,268.62 343.59,267.80 344.42,267.04 345.25,266.34 346.07,265.71 346.90,265.16 347.73,264.67 348.55,264.21 349.38,263.79 350.21,263.40 351.03,263.06 351.86,262.76 352.69,262.52 353.51,262.32 354.34,262.18 355.17,262.07 355.99,262.01 356.82,261.98 357.65,261.98 358.47,262.02 359.30,262.07 360.13,262.15 360.95,262.23 361.78,262.32 362.61,262.42 363.43,262.51 364.26,262.61 365.09,262.72 365.91,262.85 366.74,262.99 367.57,263.13 368.39,263.26 369.22,263.39 370.05,263.50 370.87,263.60 371.70,263.65 372.53,263.67 373.35,263.66 374.18,263.62 375.01,263.54 375.83,263.44 376.66,263.30 377.49,263.13 378.31,262.92 379.14,262.68 379.97,262.35 380.79,261.88 381.62,261.30 382.45,260.60 383.27,259.80 384.10,258.89 384.93,257.89 385.75,256.81 386.58,255.65 387.41,254.42 388.23,252.77 389.06,250.70 389.89,248.38 390.72,246.01 391.54,243.76 392.37,241.56 393.20,239.32 394.02,237.04 394.85,234.71 395.68,232.32 396.50,229.79 397.33,227.16 398.16,224.52 398.98,221.99 399.81,219.66 400.64,217.40 401.46,215.22 402.29,213.30 403.12,211.76 403.94,210.27 404.77,208.91 405.60,208.11 406.42,208.22 407.25,208.73 408.08,209.27 408.90,209.83 409.73,210.42 410.56,211.53 411.38,213.24 412.21,215.33 413.04,217.60 413.86,219.84 414.69,221.84 415.52,223.72 416.34,225.59 417.17,227.43 418.00,229.27 418.82,231.14 419.65,233.04 420.48,234.97 421.30,236.96 422.13,239.02 422.96,241.12 423.78,243.26 424.61,245.42 425.44,247.58 426.26,249.73 427.09,251.86 427.92,253.95 428.74,255.98 429.57,258.02 430.40,260.10 431.22,262.18 432.05,264.26 432.88,266.31 433.70,268.32 434.53,270.25 435.36,272.10 436.18,273.83 437.01,275.44 437.84,277.00 438.66,278.54 439.49,280.05 440.32,281.53 441.14,282.98 441.97,284.38 442.80,285.74 443.62,287.04 444.45,288.29 445.28,289.47 446.10,290.59 446.93,291.63 447.76,292.58 448.58,293.46 449.41,294.24 450.24,294.96 451.06,295.63 451.89,296.26 452.72,296.85 453.54,297.40 454.37,297.93 455.20,298.43 456.02,298.90 456.85,299.37 457.68,299.81 458.50,300.25 459.33,300.69 460.16,301.12 460.98,301.56 461.81,302.00 462.64,302.43 463.46,302.85 464.29,303.26 465.12,303.65 465.94,304.04 466.77,304.42 467.60,304.80 468.42,305.18 469.25,305.55 470.08,305.92 470.90,306.29" stroke="#0000ff"/>
<polyline points="329.70,280.67 330.37,279.71 331.19,278.48 332.02,277.20 332.85,275.89 333.67,274.54 334.50,273.19 335.33,271.85 336.15,270.53 336.98,269.25 337.81,268.03 338.63,266.89 339.46,265.78 340.29,264.68 341.11,263.60 341.94,262.55 342.77,261.54 343.59,260.59 344.42,259.69 345.25,258.87 346.07,258.14 346.90,257.51 347.73,256.94 348.55,256.40 349.38,255.91 350.21,255.45 351.03,255.04 351.86,254.68 352.69,254.37 353.51,254.11 354.34,253.92 355.17,253.79 355.99,253.71 356.82,253.68 357.65,253.70 358.47,253.75 359.30,253.83 360.13,253.93 360.95,254.05 361.78,254.18 362.61,254.31 363.43,254.44 364.26,254.58 365.09,254.75 365.91,254.94 366.74,255.13 367.57,255.34 368.39,255.54 369.22,255.74 370.05,255.92 370.87,256.09 371.70,256.22 372.53,256.32 373.35,256.39 374.18,256.43 375.01,256.43 375.83,256.39 376.66,256.33 377.49,256.22 378.31,256.08 379.14,255.91 379.97,255.69 380.79,255.37 381.62,254.91 382.45,254.33 383.27,253.63 384.10,252.82 384.93,251.91 385.75,250.91 386.58,249.83 387.41,248.67 388.23,247.44 389.06,245.78 389.89,243.68 390.72,241.33 391.54,238.93 392.37,236.66 393.20,234.44 394.02,232.19 394.85,229.89 395.68,227.53 396.50,225.12 397.33,222.57 398.16,219.91 398.98,217.26 399.81,214.72 400.64,212.39 401.46,210.13 402.29,207.97 403.12,206.07 403.94,204.58 404.77,203.14 405.60,201.88 406.42,201.23 407.25,201.53 408.08,202.24 408.90,202.97 409.73,203.73 410.56,204.50 411.38,205.81 412.21,207.73 413.04,210.03 413.86,212.49 414.69,214.89 415.52,217.02 416.34,219.01 417.17,220.95 418.00,222.87 418.82,224.83 419.65,226.82 420.48,228.83 421.30,230.88 422.13,232.99 422.96,235.16 423.78,237.38 424.61,239.63 425.44,241.90 426.26,244.18 427.09,246.44 427.92,248.67 428.74,250.86 429.57,253.00 430.40,255.14 431.22,257.33 432.05,259.52 432.88,261.71 433.70,263.86 434.53,265.97 435.36,268.00 436.18,269.95 437.01,271.77 437.84,273.47 438.66,275.10 439.49,276.72 440.32,278.31 441.14,279.87 441.97,281.39 442.80,282.86 443.62,284.29 444.45,285.66 445.28,286.97 446.10,288.21 446.93,289.38 447.76,290.46 448.58,291.47 449.41,292.38 450.24,293.19 451.06,293.94 451.89,294.64 452.72,295.30 453.54,295.91 454.37,296.48 455.20,297.02 456.02,297.54 456.85,298.04 457.68,298.52 458.50,298.99 459.33,299.45 460.16,299.90 460.98,300.35 461.81,300.80 462.64,301.26 463.46,301.71 464.29,302.15 465.12,302.57 465.94,302.99 466.77,303.39 467.60,303.79 468.42,304.19 469.25,304.57 470.08,304.96 470.90,305.35" stroke="#00ffff"/>
<polyline points="329.70,276.01 330.37,274.93 331.19,273.53 332.02,272.05 332.85,270.53 333.67,268.98 334.50,267.42 335.33,265.88 336.15,264.37 336.98,262.91 337.81,261.53 338.63,260.24 339.46,259.01 340.29,257.78 341.11,256.58 341.94,255.41 342.77,254.29 343.59,253.24 344.42,252.26 345.25,251.38 346.07,250.60 346.90,249.95 347.73,249.37 348.55,248.84 349.38,248.34 350.21,247.88 351.03,247.48 351.86,247.13 352.69,246.83 353.51,246.59 354.34,246.43 355.17,246.31 355.99,246.26 356.82,246.26 357.65,246.32 358.47,246.41 359.30,246.55 360.13,246.71 360.95,246.89 361.78,247.08 362.61,247.27 363.43,247.46 364.26,247.66 365.09,247.89 365.91,248.15 366.74,248.43 367.57,248.72 368.39,249.01 369.22,249.29 370.05,249.56 370.87,249.80 371.70,250.01 372.53,250.17 373.35,250.30 374.18,250.40 375.01,250.47 375.83,250.51 376.66,250.51 377.49,250.48 378.31,250.41 379.14,250.31 379.97,250.12 380.79,249.81 381.62,249.37 382.45,248.81 383.27,248.14 384.10,247.37 384.93,246.51 385.75,245.57 386.58,244.56 387.41,243.49 388.23,242.14 389.06,240.34 389.89,238.26 390.72,236.09 391.54,234.01 392.37,232.03 393.20,230.03 394.02,227.99 394.85,225.92 395.68,223.79 396.50,221.56 397.33,219.20 398.16,216.83 398.98,214.54 399.81,212.43 400.64,210.46 401.46,208.54 402.29,206.83 403.12,205.49 403.94,204.33 404.77,203.22 405.60,202.57 406.42,202.79 407.25,203.66 408.08,204.60 408.90,205.57 409.73,206.57 410.56,207.90 411.38,209.87 412.21,212.25 413.04,214.85 413.86,217.43 414.69,219.80 415.52,221.93 416.34,224.00 417.17,225.99 418.00,227.94 418.82,229.91 419.65,231.91 420.48,233.92 421.30,235.98 422.13,238.09 422.96,240.25 423.78,242.44 424.61,244.65 425.44,246.86 426.26,249.06 427.09,251.23 427.92,253.36 428.74,255.43 429.57,257.48 430.40,259.57 431.22,261.68 432.05,263.78 432.88,265.86 433.70,267.90 434.53,269.88 435.36,271.77 436.18,273.56 437.01,275.23 437.84,276.81 438.66,278.38 439.49,279.92 440.32,281.43 441.14,282.90 441.97,284.34 442.80,285.72 443.62,287.06 444.45,288.34 445.28,289.55 446.10,290.70 446.93,291.76 447.76,292.75 448.58,293.66 449.41,294.47 450.24,295.20 451.06,295.89 451.89,296.53 452.72,297.13 453.54,297.69 454.37,298.21 455.20,298.70 456.02,299.18 456.85,299.63 457.68,300.08 458.50,300.51 459.33,300.94 460.16,301.36 460.98,301.79 461.81,302.22 462.64,302.65 463.46,303.06 464.29,303.46 465.12,303.85 465.94,304.24 466.77,304.61 467.60,304.99 468.42,305.35 469.25,305.72 470.08,306.08 470.90,306.45" stroke="#ff00ff"/>
<polyline points="329.70,272.52 330.37,271.32 331.19,269.78 332.02,268.16 332.85,266.47 333.67,264.76 334.50,263.03 335.33,261.31 336.15,259.64 336.98,258.03 337.81,256.50 338.63,255.08 339.46,253.73 340.29,252.38 341.11,251.05 341.94,249.77 342.77,248.53 343.59,247.37 344.42,246.30 345.25,245.33 346.07,244.48 346.90,243.77 347.73,243.15 348.55,242.57 349.38,242.03 350.21,241.53 351.03,241.08 351.86,240.69 352.69,240.36 353.51,240.09 354.34,239.89 355.17,239.76 355.99,239.70 356.82,239.72 357.65,239.79 358.47,239.91 359.30,240.07 360.13,240.27 360.95,240.49 361.78,240.72 362.61,240.95 363.43,241.18 364.26,241.42 365.09,241.71 365.91,242.03 366.74,242.37 367.57,242.72 368.39,243.08 369.22,243.43 370.05,243.77 370.87,244.08 371.70,244.36 372.53,244.60 373.35,244.80 374.18,244.98 375.01,245.12 375.83,245.24 376.66,245.31 377.49,245.35 378.31,245.36 379.14,245.32 379.97,245.24 380.79,245.05 381.62,244.72 382.45,244.27 383.27,243.70 384.10,243.04 384.93,242.28 385.75,241.45 386.58,240.54 387.41,239.58 388.23,238.53 389.06,237.07 389.89,235.23 390.72,233.20 391.54,231.14 392.37,229.23 393.20,227.35 394.02,225.45 394.85,223.50 395.68,221.52 396.50,219.48 397.33,217.30 398.16,215.05 398.98,212.83 399.81,210.74 400.64,208.84 401.46,207.01 402.29,205.30 403.12,203.86 403.94,202.80 404.77,201.76 405.60,200.97 406.42,200.83 407.25,201.62 408.08,202.72 408.90,203.87 409.73,205.04 410.56,206.26 411.38,208.03 412.21,210.33 413.04,212.95 413.86,215.66 414.69,218.26 415.52,220.55 416.34,222.68 417.17,224.70 418.00,226.68 418.82,228.67 419.65,230.69 420.48,232.72 421.30,234.77 422.13,236.87 422.96,239.02 423.78,241.21 424.61,243.42 425.44,245.64 426.26,247.86 427.09,250.05 427.92,252.21 428.74,254.32 429.57,256.38 430.40,258.46 431.22,260.56 432.05,262.67 432.88,264.78 433.70,266.85 434.53,268.87 435.36,270.82 436.18,272.68 437.01,274.43 437.84,276.06 438.66,277.64 439.49,279.21 440.32,280.74 441.14,282.24 441.97,283.71 442.80,285.12 443.62,286.49 444.45,287.81 445.28,289.06 446.10,290.25 446.93,291.37 447.76,292.40 448.58,293.36 449.41,294.22 450.24,295.00 451.06,295.71 451.89,296.37 452.72,296.99 453.54,297.56 454.37,298.09 455.20,298.60 456.02,299.08 456.85,299.54 457.68,299.99 458.50,300.42 459.33,300.85 460.16,301.27 460.98,301.69 461.81,302.12 462.64,302.54 463.46,302.96 464.29,303.37 465.12,303.76 465.94,304.15 466.77,304.53 467.60,304.90 468.42,305.26 469.25,305.63 470.08,305.99 470.90,306.35" stroke="#ffff00"/>
<polyline points="329.70,268.55 330.37,267.20 331.19,265.48 332.02,263.67 332.85,261.78 333.67,259.85 334.50,257.90 335.33,255.98 336.15,254.10 336.98,252.30 337.81,250.60 338.63,249.04 339.46,247.55 340.29,246.06 341.11,244.60 341.94,243.18 342.77,241.82 343.59,240.55 344.42,239.37 345.25,238.33 346.07,237.42 346.90,236.68 347.73,236.04 348.55,235.43 349.38,234.87 350.21,234.35 351.03,233.88 351.86,233.47 352.69,233.12 353.51,232.84 354.34,232.63 355.17,232.50 355.99,232.46 356.82,232.50 357.65,232.61 358.47,232.78 359.30,232.99 360.13,233.25 360.95,233.53 361.78,233.83 362.61,234.13 363.43,234.43 364.26,234.74 365.09,235.11 365.91,235.52 366.74,235.96 367.57,236.42 368.39,236.89 369.22,237.35 370.05,237.79 370.87,238.21 371.70,238.60 372.53,238.94 373.35,239.26 374.18,239.55 375.01,239.82 375.83,240.05 376.66,240.25 377.49,240.41 378.31,240.54 379.14,240.63 379.97,240.68 380.79,240.64 381.62,240.47 382.45,240.19 383.27,239.80 384.10,239.32 384.93,238.76 385.75,238.13 386.58,237.44 387.41,236.70 388.23,235.93 389.06,234.90 389.89,233.49 390.72,231.86 391.54,230.17 392.37,228.57 393.20,227.07 394.02,225.55 394.85,224.01 395.68,222.43 396.50,220.81 397.33,219.10 398.16,217.31 398.98,215.51 399.81,213.81 400.64,212.29 401.46,210.88 402.29,209.54 403.12,208.41 403.94,207.62 404.77,206.98 405.60,206.47 406.42,206.46 407.25,207.28 408.08,208.64 408.90,210.06 409.73,211.51 410.56,212.96 411.38,214.74 412.21,217.04 413.04,219.67 413.86,222.41 414.69,225.07 415.52,227.47 416.34,229.59 417.17,231.57 418.00,233.47 418.82,235.39 419.65,237.31 420.48,239.24 421.30,241.17 422.13,243.14 422.96,245.15 423.78,247.19 424.61,249.25 425.44,251.32 426.26,253.38 427.09,255.42 427.92,257.42 428.74,259.39 429.57,261.30 430.40,263.20 431.22,265.14 432.05,267.09 432.88,269.03 433.70,270.95 434.53,272.83 435.36,274.66 436.18,276.40 437.01,278.06 437.84,279.60 438.66,281.07 439.49,282.52 440.32,283.95 441.14,285.35 441.97,286.71 442.80,288.03 443.62,289.31 444.45,290.54 445.28,291.72 446.10,292.83 446.93,293.88 447.76,294.86 448.58,295.76 449.41,296.58 450.24,297.31 451.06,297.98 451.89,298.59 452.72,299.16 453.54,299.69 454.37,300.18 455.20,300.64 456.02,301.08 456.85,301.50 457.68,301.90 458.50,302.29 459.33,302.68 460.16,303.06 460.98,303.44 461.81,303.81 462.64,304.20 463.46,304.57 464.29,304.94 465.12,305.30 465.94,305.65 466.77,305.99 467.60,306.32 468.42,306.65 469.25,306.98 470.08,307.30 470.90,307.62" stroke="#808000"/>
<polyline points="329.70,267.50 330.37,266.11 331.19,264.34 332.02,262.47 332.85,260.52 333.67,258.52 334.50,256.52 335.33,254.53 336.15,252.59 336.98,250.73 337.81,248.99 338.63,247.38 339.46,245.85 340.29,244.33 341.11,242.83 341.94,241.37 342.77,239.98 343.59,238.67 344.42,237.47 345.25,236.41 346.07,235.49 346.90,234.74 347.73,234.09 348.55,233.49 349.38,232.92 350.21,232.40 351.03,231.93 351.86,231.51 352.69,231.16 353.51,230.88 354.34,230.67 355.17,230.54 355.99,230.50 356.82,230.55 357.65,230.67 358.47,230.86 359.30,231.09 360.13,231.37 360.95,231.67 361.78,231.99 362.61,232.32 363.43,232.64 364.26,232.98 365.09,233.38 365.91,233.82 366.74,234.29 367.57,234.78 368.39,235.28 369.22,235.78 370.05,236.26 370.87,236.72 371.70,237.14 372.53,237.52 373.35,237.88 374.18,238.22 375.01,238.52 375.83,238.79 376.66,239.04 377.49,239.24 378.31,239.42 379.14,239.55 379.97,239.65 380.79,239.67 381.62,239.56 382.45,239.35 383.27,239.03 384.10,238.62 384.93,238.14 385.75,237.59 386.58,236.99 387.41,236.34 388.23,235.67 389.06,234.81 389.89,233.58 390.72,232.13 391.54,230.59 392.37,229.13 393.20,227.78 394.02,226.42 394.85,225.03 395.68,223.62 396.50,222.18 397.33,220.66 398.16,219.05 398.98,217.44 399.81,215.90 400.64,214.53 401.46,213.29 402.29,212.11 403.12,211.11 403.94,210.42 404.77,209.93 405.60,209.54 406.42,209.61 407.25,210.41 408.08,211.85 408.90,213.35 409.73,214.90 410.56,216.45 411.38,218.22 412.21,220.49 413.04,223.09 413.86,225.81 414.69,228.47 415.52,230.88 416.34,232.99 417.17,234.94 418.00,236.80 418.82,238.66 419.65,240.53 420.48,242.40 421.30,244.28 422.13,246.18 422.96,248.12 423.78,250.09 424.61,252.07 425.44,254.06 426.26,256.04 427.09,258.01 427.92,259.94 428.74,261.83 429.57,263.68 430.40,265.50 431.22,267.35 432.05,269.22 432.88,271.08 433.70,272.93 434.53,274.74 435.36,276.50 436.18,278.19 437.01,279.79 437.84,281.28 438.66,282.70 439.49,284.10 440.32,285.47 441.14,286.82 441.97,288.13 442.80,289.41 443.62,290.64 444.45,291.83 445.28,292.96 446.10,294.04 446.93,295.05 447.76,296.00 448.58,296.87 449.41,297.67 450.24,298.38 451.06,299.02 451.89,299.62 452.72,300.17 453.54,300.67 454.37,301.14 455.20,301.58 456.02,301.99 456.85,302.39 457.68,302.78 458.50,303.15 459.33,303.52 460.16,303.88 460.98,304.23 461.81,304.59 462.64,304.95 463.46,305.31 464.29,305.66 465.12,306.00 465.94,306.33 466.77,306.66 467.60,306.97 468.42,307.29 469.25,307.60 470.08,307.90 470.90,308.21" stroke="#8000ff"/>
<polyline points="329.70,264.54 330.37,263.08 331.19,261.19 332.02,259.18 332.85,257.10 333.67,254.97 334.50,252.82 335.33,250.70 336.15,248.63 336.98,246.65 337.81,244.80 338.63,243.10 339.46,241.48 340.29,239.87 341.11,238.29 341.94,236.75 342.77,235.28 343.59,233.91 344.42,232.65 345.25,231.54 346.07,230.59 346.90,229.82 347.73,229.18 348.55,228.56 349.38,227.99 350.21,227.47 351.03,227.00 351.86,226.59 352.69,226.24 353.51,225.96 354.34,225.77 355.17,225.65 355.99,225.62 356.82,225.69 357.65,225.84 358.47,226.06 359.30,226.33 360.13,226.65 360.95,226.99 361.78,227.36 362.61,227.72 363.43,228.08 364.26,228.46 365.09,228.91 365.91,229.40 366.74,229.93 367.57,230.49 368.39,231.05 369.22,231.61 370.05,232.15 370.87,232.67 371.70,233.14 372.53,233.57 373.35,233.98 374.18,234.37 375.01,234.73 375.83,235.06 376.66,235.35 377.49,235.62 378.31,235.85 379.14,236.04 379.97,236.19 380.79,236.24 381.62,236.17 382.45,236.00 383.27,235.72 384.10,235.37 384.93,234.94 385.75,234.46 386.58,233.93 387.41,233.37 388.23,232.77 389.06,231.89 389.89,230.71 390.72,229.38 391.54,228.04 392.37,226.81 393.20,225.64 394.02,224.46 394.85,223.26 395.68,222.04 396.50,220.78 397.33,219.43 398.16,218.02 398.98,216.65 399.81,215.38 400.64,214.29 401.46,213.28 402.29,212.36 403.12,211.67 403.94,211.30 404.77,210.98 405.60,210.88 406.42,211.33 407.25,212.58 408.08,214.19 408.90,215.86 409.73,217.57 410.56,219.31 411.38,221.44 412.21,223.98 413.04,226.76 413.86,229.58 414.69,232.27 415.52,234.65 416.34,236.79 417.17,238.75 418.00,240.61 418.82,242.47 419.65,244.32 420.48,246.18 421.30,248.03 422.13,249.91 422.96,251.82 423.78,253.75 424.61,255.68 425.44,257.61 426.26,259.53 427.09,261.42 427.92,263.27 428.74,265.08 429.57,266.84 430.40,268.60 431.22,270.39 432.05,272.18 432.88,273.97 433.70,275.73 434.53,277.46 435.36,279.12 436.18,280.72 437.01,282.22 437.84,283.63 438.66,284.99 439.49,286.33 440.32,287.64 441.14,288.93 441.97,290.18 442.80,291.39 443.62,292.57 444.45,293.69 445.28,294.76 446.10,295.78 446.93,296.73 447.76,297.61 448.58,298.43 449.41,299.17 450.24,299.83 451.06,300.43 451.89,300.98 452.72,301.49 453.54,301.96 454.37,302.40 455.20,302.80 456.02,303.18 456.85,303.55 457.68,303.91 458.50,304.26 459.33,304.60 460.16,304.94 460.98,305.28 461.81,305.61 462.64,305.95 463.46,306.29 464.29,306.61 465.12,306.93 465.94,307.24 466.77,307.54 467.60,307.84 468.42,308.13 469.25,308.42 470.08,308.71 470.90,309.00" stroke="#ff8000"/>
<polyline points="329.70,265.24 330.37,263.79 331.19,261.91 332.02,259.93 332.85,257.86 333.67,255.74 334.50,253.61 335.33,251.50 336.15,249.44 336.98,247.48 337.81,245.64 338.63,243.96 339.46,242.36 340.29,240.76 341.11,239.19 341.94,237.66 342.77,236.21 343.59,234.85 344.42,233.61 345.25,232.50 346.07,231.56 346.90,230.81 347.73,230.17 348.55,229.57 349.38,229.01 350.21,228.49 351.03,228.03 351.86,227.62 352.69,227.28 353.51,227.00 354.34,226.80 355.17,226.69 355.99,226.66 356.82,226.73 357.65,226.89 358.47,227.11 359.30,227.38 360.13,227.70 360.95,228.05 361.78,228.42 362.61,228.79 363.43,229.15 364.26,229.54 365.09,229.99 365.91,230.49 366.74,231.02 367.57,231.58 368.39,232.15 369.22,232.71 370.05,233.27 370.87,233.79 371.70,234.27 372.53,234.72 373.35,235.14 374.18,235.54 375.01,235.92 375.83,236.26 376.66,236.58 377.49,236.86 378.31,237.11 379.14,237.32 379.97,237.50 380.79,237.59 381.62,237.56 382.45,237.43 383.27,237.21 384.10,236.90 384.93,236.53 385.75,236.11 386.58,235.64 387.41,235.15 388.23,234.63 389.06,233.90 389.89,232.86 390.72,231.66 391.54,230.42 392.37,229.27 393.20,228.21 394.02,227.13 394.85,226.05 395.68,224.94 396.50,223.80 397.33,222.59 398.16,221.31 398.98,220.05 399.81,218.88 400.64,217.88 401.46,216.97 402.29,216.14 403.12,215.50 403.94,215.16 404.77,214.94 405.60,214.87 406.42,215.28 407.25,216.44 408.08,218.05 408.90,219.73 409.73,221.45 410.56,223.18 411.38,225.20 412.21,227.64 413.04,230.32 413.86,233.06 414.69,235.70 415.52,238.06 416.34,240.14 417.17,242.04 418.00,243.83 418.82,245.62 419.65,247.40 420.48,249.19 421.30,250.97 422.13,252.77 422.96,254.60 423.78,256.44 424.61,258.29 425.44,260.14 426.26,261.98 427.09,263.79 427.92,265.57 428.74,267.31 429.57,269.00 430.40,270.68 431.22,272.38 432.05,274.10 432.88,275.81 433.70,277.50 434.53,279.16 435.36,280.76 436.18,282.30 437.01,283.76 437.84,285.12 438.66,286.42 439.49,287.71 440.32,288.97 441.14,290.20 441.97,291.41 442.80,292.58 443.62,293.70 444.45,294.79 445.28,295.82 446.10,296.80 446.93,297.72 447.76,298.58 448.58,299.37 449.41,300.08 450.24,300.72 451.06,301.30 451.89,301.84 452.72,302.33 453.54,302.78 454.37,303.20 455.20,303.58 456.02,303.95 456.85,304.31 457.68,304.65 458.50,304.98 459.33,305.31 460.16,305.63 460.98,305.95 461.81,306.27 462.64,306.59 463.46,306.91 464.29,307.22 465.12,307.52 465.94,307.81 466.77,308.10 467.60,308.38 468.42,308.66 469.25,308.94 470.08,309.21 470.90,309.48" stroke="#008000"/></g>
<text x="329.6" y="188.9" font-size="12.8">initial use</text>
<text x="316.2" y="222.1" font-size="10.3" fill="#505050" style="stroke:#505050;stroke-width:0.1px">10 mM</text>
<text x="372.6" y="288.9" font-size="10.5" fill="#505050" style="stroke:#505050;stroke-width:0.1px">0.1 mM</text>
<text x="361.5" y="302.7" font-size="10.6" font-weight="bold" style="stroke-width:0.05px">creatine</text>
<line x1="370.20" y1="285.30" x2="339.26" y2="235.47" stroke="#000" stroke-width="1.5"/>
<path d="M335.30 229.10L342.33 234.74L337.24 237.90Z" fill="#000"/>
<text x="317.4" y="355.2" font-size="14.45">Emission wavelength [nm]</text>
<text transform="translate(545.2,267.6) rotate(-90)" font-size="14.35">Fluorescence intensity [a.u.]</text>
</svg>
</body></html>
